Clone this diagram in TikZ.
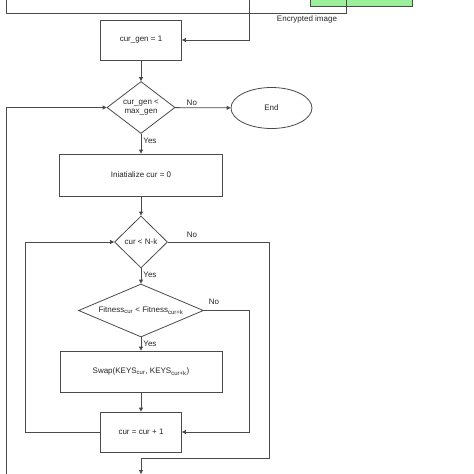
\documentclass[tikz,border=0pt]{standalone}
\usepackage{fontspec}
\setmainfont{Liberation Sans}
\usetikzlibrary{shapes.geometric,arrows.meta}
\definecolor{ln}{HTML}{4A4A4A}
\definecolor{grn}{HTML}{9CF09C}
\tikzset{
  every node/.style={font=\fontsize{8}{9.5}\selectfont, text=black!85},
  conn/.style={draw=ln, line width=0.8pt},
  arr/.style={conn, -{Triangle[length=4pt,width=4pt]}},
  boxnode/.style={draw=ln, line width=0.8pt, rectangle, inner sep=0pt, align=center},
  dia/.style={draw=ln, line width=0.8pt, diamond, inner sep=0pt},
  ell/.style={draw=ln, line width=0.8pt, ellipse, inner sep=0pt},
  lbl/.style={inner sep=1pt}
}
\begin{document}
\begin{tikzpicture}[x=1pt,y=-1pt]
\useasboundingbox (0,0) rectangle (474,474);
\clip (0,0) rectangle (474,474);
\fill[white] (0,0) rectangle (474,474);
% top partial shapes
\node[draw=ln, line width=0.8pt, fill=grn, minimum width=102pt, minimum height=30pt, inner sep=0pt] (green) at (361,-9) {};
\draw[conn] (6,-10) |- (346,13) -- (346,-10);
\coordinate (topin) at (249,-10);
\node (enc) at (307,19.5) {Encrypted image};
% main nodes
\node[boxnode, minimum width=81pt, minimum height=40pt] (gen1) at (141,40) {cur\_gen = 1};
\node[dia, minimum width=68pt, minimum height=52pt, label={[align=center, inner sep=0pt]center:cur\_gen <\\max\_gen}] (d1) at (141,107.5) {};
\node[ell, minimum width=81pt, minimum height=41pt] (endn) at (271.5,108) {End};
\node[boxnode, minimum width=163pt, minimum height=42pt] (init) at (141,175) {Iniatialize cur = 0};
\node[dia, minimum width=53pt, minimum height=52pt, label={[inner sep=0pt]center:cur < N-k}] (d2) at (141,242) {};
\node[dia, minimum width=125pt, minimum height=53pt, label={[inner sep=0pt]center:Fitness\textsubscript{cur} < Fitness\textsubscript{cur+k}}] (d3) at (141,310.5) {};
\node[boxnode, minimum width=162pt, minimum height=41pt] (swap) at (141,371.5) {Swap(KEYS\textsubscript{cur}, KEYS\textsubscript{cur+k})};
\node[boxnode, minimum width=81pt, minimum height=40pt] (inc) at (141,432) {cur = cur + 1};
\coordinate (outin) at (6,480);
\coordinate (botout) at (141,474);
% connectors
\draw[arr] (topin) |- (gen1.east);
\draw[arr] (gen1) -- (d1);
\draw[arr] (d1) -- (endn) node[lbl, pos=0.3, above=1pt] {No};
\draw[arr] (d1) -- (init) node[lbl, pos=0.35, right=1pt] {Yes};
\draw[arr] (init) -- (d2);
\draw[arr] (d2.east) -- (269,242) |- (141,458.5) -- (botout);
\node[lbl] (no2) at (192,235) {No};
\draw[arr] (d2) -- (d3) node[lbl, pos=0.45, right=1pt] {Yes};
\draw[arr] (d3.east) -- (249,310.5) |- (inc.east);
\node[lbl] (no3) at (214,302) {No};
\draw[arr] (d3) -- (swap) node[lbl, pos=0.45, right=1pt] {Yes};
\draw[arr] (swap) -- (inc);
\draw[arr] (inc.west) -- (25,432) |- (d2.west);
\draw[arr] (outin) |- (d1.west);
\end{tikzpicture}
\end{document}
